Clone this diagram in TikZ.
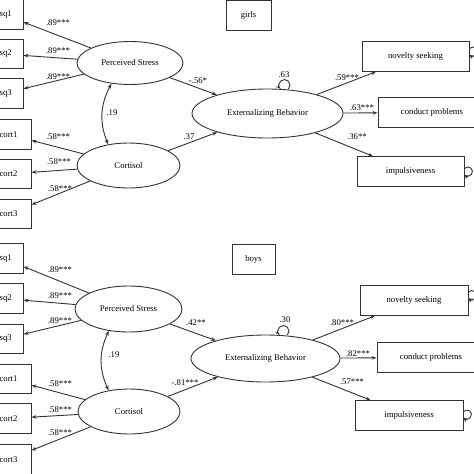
\documentclass[tikz,border=0pt]{standalone}
\usepackage{fontspec}
\setmainfont{Liberation Serif}
\usetikzlibrary{shapes.geometric,arrows.meta,calc}
\definecolor{lc}{HTML}{333333}
\begin{document}
\begin{tikzpicture}[x=1pt,y=-1pt,
  every node/.style={font=\fontsize{8.7}{10}\selectfont, text=black},
  box/.style={draw=lc, line width=0.9pt, rectangle, inner sep=0pt, minimum height=29.5pt},
  lat/.style={draw=lc, line width=0.9pt, ellipse, inner sep=0pt},
  arr/.style={draw=lc, line width=0.9pt, -{Stealth[length=5pt,width=3.6pt]}},
  darr/.style={draw=lc, line width=0.9pt, {Stealth[length=5pt,width=3.6pt]}-{Stealth[length=5pt,width=3.6pt]}},
  lab/.style={inner sep=0pt}]
\useasboundingbox (0,0) rectangle (474,474);
\clip (0,0) rectangle (474,474);
\fill[white] (0,0) rectangle (474,474);

% ================= girls =================
\node[box, minimum width=45pt] (gtitle) at (248.5,15.25) {girls};
\node[lat, minimum width=106pt, minimum height=43pt] (gps) at (130,63) {Perceived Stress};
\node[lat, minimum width=103pt, minimum height=45pt] (gco) at (128.5,165.5) {Cortisol};
\node[lat, minimum width=151pt, minimum height=49pt] (gext) at (267.5,113.5) {Externalizing Behavior};

\node[box, minimum width=39pt] (gp1) at (3.5,14.5) {psq1};
\node[box, minimum width=39pt] (gp2) at (3.5,54) {psq2};
\node[box, minimum width=39pt] (gp3) at (3.5,93.5) {psq3};
\node[box, minimum width=45pt] (gc1) at (8.5,134.5) {cort1};
\node[box, minimum width=45pt] (gc2) at (8.5,174) {cort2};
\node[box, minimum width=45pt] (gc3) at (8.5,214) {cort3};

\node[box, minimum width=107pt] (gns) at (415.5,56.5) {novelty seeking};
\node[box, minimum width=108pt] (gcp) at (432,112.5) {conduct problems};
\node[box, minimum width=107pt] (gim) at (410.5,171.5) {impulsiveness};

\draw[arr] (gps) -- (gp1);
\draw[arr] (gps) -- (gp2);
\draw[arr] (gps) -- (gp3);
\draw[arr] (gco) -- (gc1);
\draw[arr] (gco) -- (gc2);
\draw[arr] (gco) -- (gc3);
\draw[darr] (gps.228) to[bend right=25] (gco.134);
\draw[arr] (gps) -- (gext);
\draw[arr] (gco) -- (gext);
\draw[arr] (gext) -- (gns);
\draw[arr] (gext) -- (gcp);
\draw[arr] (gext) -- (gim);
\draw[arr] ($(gext.north)+(17,-3.5)$) ++(-45:5.5pt) arc[start angle=-45, end angle=225, radius=5.5pt];
\draw[arr] ($(gns.east)+(3.5,-5)$) ++(140:4.5pt) arc[start angle=140, end angle=-140, radius=4.5pt];
\draw[arr] ($(gim.east)+(3.5,0)$) ++(140:4.5pt) arc[start angle=140, end angle=-140, radius=4.5pt];

\node[lab] (gl1) at (58,23) {.89***};
\node[lab] (gl2) at (58,51) {.89***};
\node[lab] (gl3) at (58,77) {.89***};
\node[lab] (gl4) at (58,137) {.58***};
\node[lab] (gl5) at (59,162) {.58***};
\node[lab] (gl6) at (60,189) {.58***};
\node[lab] (gl7) at (112,113) {.19};
\node[lab] (gl8) at (198,81) {-.56*};
\node[lab] (gl9) at (189,137) {.37};
\node[lab] (gl10) at (284,75) {.63};
\node[lab] (gl11) at (347,78) {.59***};
\node[lab] (gl12) at (362,108) {.63***};
\node[lab] (gl13) at (357,137) {.36**};

% ================= boys =================
\node[box, minimum width=43pt] (btitle) at (253.5,259.5) {boys};
\node[lat, minimum width=107pt, minimum height=46pt] (bps) at (128.5,309) {Perceived Stress};
\node[lat, minimum width=102pt, minimum height=45pt] (bco) at (129,411.5) {Cortisol};
\node[lat, minimum width=149pt, minimum height=47pt] (bext) at (265.5,358.5) {Externalizing Behavior};

\node[box, minimum width=39pt] (bp1) at (3.5,258.5) {psq1};
\node[box, minimum width=39pt] (bp2) at (3.5,298.5) {psq2};
\node[box, minimum width=39pt] (bp3) at (3.5,339) {psq3};
\node[box, minimum width=45pt] (bc1) at (8.5,379) {cort1};
\node[box, minimum width=45pt] (bc2) at (8.5,418.5) {cort2};
\node[box, minimum width=45pt] (bc3) at (8.5,459.5) {cort3};

\node[box, minimum width=108pt] (bns) at (414,300.5) {novelty seeking};
\node[box, minimum width=108pt] (bcp) at (431,357.5) {conduct problems};
\node[box, minimum width=108pt] (bim) at (409,415.5) {impulsiveness};

\draw[arr] (bps) -- (bp1);
\draw[arr] (bps) -- (bp2);
\draw[arr] (bps) -- (bp3);
\draw[arr] (bco) -- (bc1);
\draw[arr] (bco) -- (bc2);
\draw[arr] (bco) -- (bc3);
\draw[darr] (bps.228) to[bend right=25] (bco.134);
\draw[arr] (bps) -- (bext);
\draw[arr] (bco) -- (bext);
\draw[arr] (bext) -- (bns);
\draw[arr] (bext) -- (bcp);
\draw[arr] (bext) -- (bim);
\draw[arr] ($(bext.north)+(18,-3.5)$) ++(-45:5.5pt) arc[start angle=-45, end angle=225, radius=5.5pt];
\draw[arr] ($(bns.east)+(3.5,-5.5)$) ++(140:4.5pt) arc[start angle=140, end angle=-140, radius=4.5pt];
\draw[arr] ($(bim.east)+(3.5,-1)$) ++(140:4.5pt) arc[start angle=140, end angle=-140, radius=4.5pt];

\node[lab] (bl1) at (60,270) {.89***};
\node[lab] (bl2) at (60,296) {.89***};
\node[lab] (bl3) at (60,321) {.89***};
\node[lab] (bl4) at (60,384) {.58***};
\node[lab] (bl5) at (60,410) {.58***};
\node[lab] (bl6) at (60,433) {.58***};
\node[lab] (bl7) at (114,355) {.19};
\node[lab] (bl8) at (196,323) {.42**};
\node[lab] (bl9) at (185,383) {-.81***};
\node[lab] (bl10) at (285,320) {.30};
\node[lab] (bl11) at (342,323) {.80***};
\node[lab] (bl12) at (358,354) {.82***};
\node[lab] (bl13) at (352,382) {.57***};
\end{tikzpicture}
\end{document}
